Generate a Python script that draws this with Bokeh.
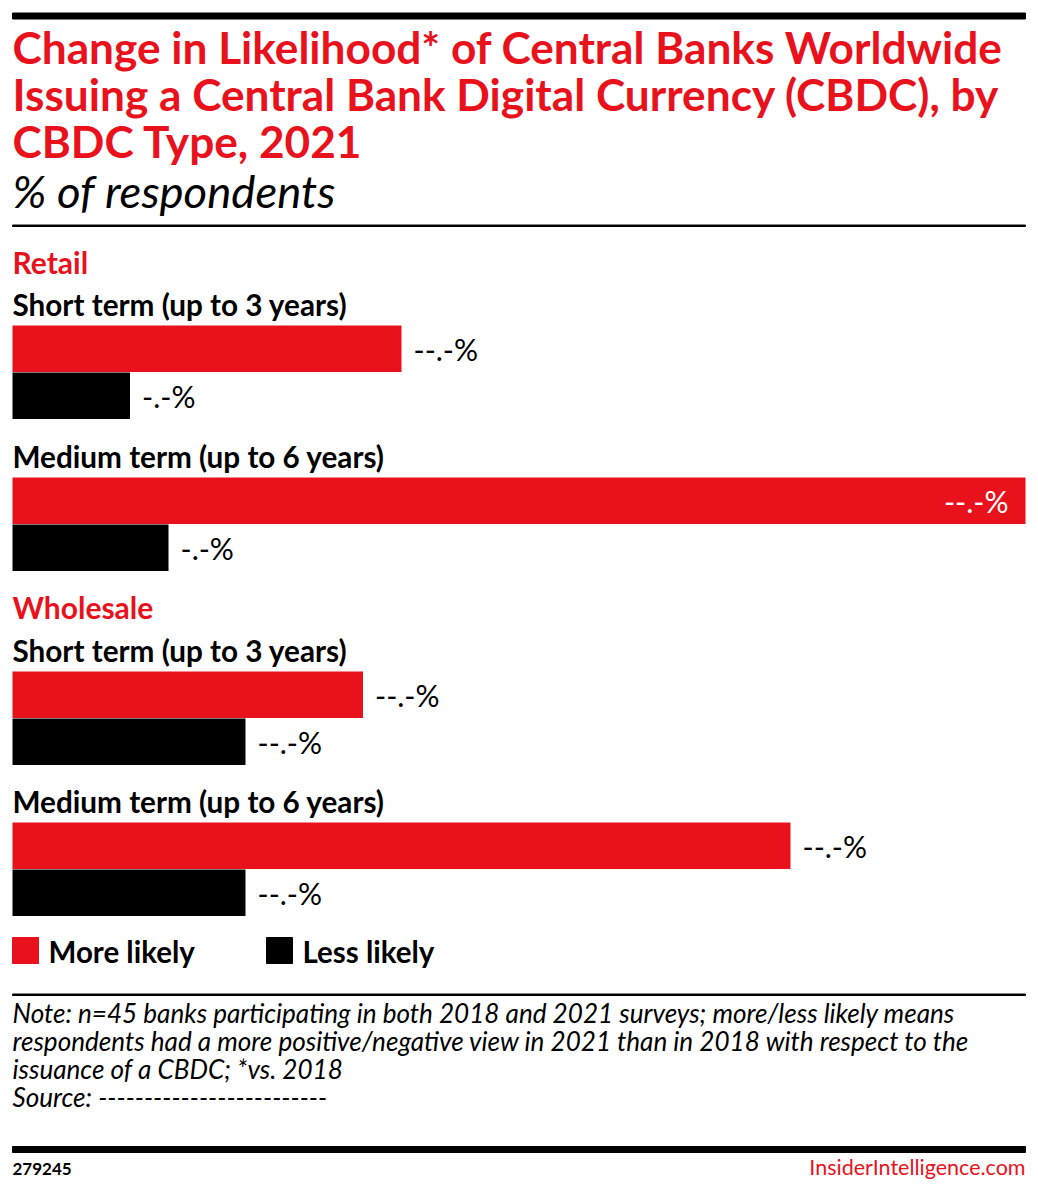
from bokeh.plotting import figure
from bokeh.models import Range1d
from bokeh.core.properties import value
from bokeh.embed import file_html
from bokeh.resources import INLINE

# ---- data ----
groups = ["Retail", "Wholesale"]
terms = ["Short term (up to 3 years)", "Medium term (up to 6 years)",
         "Short term (up to 3 years)", "Medium term (up to 6 years)"]
more_likely = [19.2, 50.0, 17.3, 38.4]
less_likely = [5.8, 7.7, 11.5, 11.5]
more_labels = ["--.-%", "--.-%", "--.-%", "--.-%"]
less_labels = ["-.-%", "-.-%", "--.-%", "--.-%"]
series_names = ["More likely", "Less likely"]

RED = "#E8111C"
BLACK = "#000000"
FONT = "Lato"

W, H = 1030, 1186
vmax = max(more_likely + less_likely)
px_per_unit = (1025 - 12) / vmax
x0 = 12
p = figure(width=W, height=H, output_backend="svg", toolbar_location=None,
           x_range=Range1d(-x0 / px_per_unit, (W - x0) / px_per_unit),
           y_range=Range1d(H, 0), min_border=0)
p.extra_x_ranges = {"px": Range1d(0, W)}
p.axis.visible = False
p.grid.visible = False
p.outline_line_color = None
p.background_fill_color = "white"
p.border_fill_color = "white"

def txt(x, y, s, size, color=BLACK, style="normal", align="left", font=FONT):
    # y is the wanted baseline; correct for how the baseline is laid out
    p.text(x=[x], y=[y - 0.38 * size], text=[s], x_range_name="px", text_font=value(font),
           text_font_size=f"{size}px", text_font_style=style, text_color=color,
           text_align=align, text_baseline="alphabetic")

# rules
p.quad(left=[12], right=[1025], top=[12.5], bottom=[18.5], color=BLACK, x_range_name="px")
p.quad(left=[12], right=[1025], top=[224.5], bottom=[226], color=BLACK, x_range_name="px")
p.quad(left=[12], right=[1025], top=[993.5], bottom=[995], color=BLACK, x_range_name="px")
p.quad(left=[12], right=[1025], top=[1146], bottom=[1152], color=BLACK, x_range_name="px")

# bars
bar_tops = [325, 477, 671, 822]
bh = 46.5
more_y = [t + bh / 2 for t in bar_tops]
less_y = [t + bh + 0.5 + bh / 2 for t in bar_tops]
p.hbar(y=more_y, left=0, right=more_likely, height=bh, color=RED, line_color=None)
p.hbar(y=less_y, left=0, right=less_likely, height=bh, color=BLACK, line_color=None)

# title
title_lines = ["Change in Likelihood* of Central Banks Worldwide",
               "Issuing a Central Bank Digital Currency (CBDC), by",
               "CBDC Type, 2021"]
for i, t in enumerate(title_lines):
    txt(12, 63 + 47 * i, t, 44.2, color=RED, style="bold")
txt(12, 207, "% of respondents", 45.5, style="italic")

# group headings and category labels
group_heading_y = [273, 618]
label_y = [315, 467, 661, 812]
for g, gy in zip(groups, group_heading_y):
    txt(12, gy, g, 30, color=RED, style="bold")
for i in range(4):
    txt(12, label_y[i], terms[i], 29.7, style="bold")

for vals, labs, ys in [(more_likely, more_labels, more_y), (less_likely, less_labels, less_y)]:
    for v, lab, y in zip(vals, labs, ys):
        inside = v > 0.9 * vmax
        p.text(x=[v], y=[y], text=[lab], text_font=value(FONT), text_font_size="30px",
               text_font_style="normal", text_color="white" if inside else BLACK,
               text_align="right" if inside else "left", text_baseline="middle",
               x_offset=-17 if inside else 12)

# legend
p.quad(left=[12], right=[38], top=[937], bottom=[963], color=RED, x_range_name="px")
txt(48, 962, series_names[0], 29.5, style="bold")
p.quad(left=[266], right=[292], top=[937], bottom=[963], color=BLACK, x_range_name="px")
txt(302, 962, series_names[1], 29.5, style="bold")

# notes
notes = ["Note: n=45 banks participating in both 2018 and 2021 surveys; more/less likely means",
         "respondents had a more positive/negative view in 2021 than in 2018 with respect to the",
         "issuance of a CBDC; *vs. 2018",
         "Source: -------------------------"]
for i, n in enumerate(notes):
    txt(12, 1022 + 28.3 * i, n, 26.1, style="italic")

txt(12, 1175, "279245", 17, style="bold")
txt(1025, 1175, "InsiderIntelligence.com", 21.5, color=RED, align="right")

open("out.html", "w").write(file_html(p, INLINE))
